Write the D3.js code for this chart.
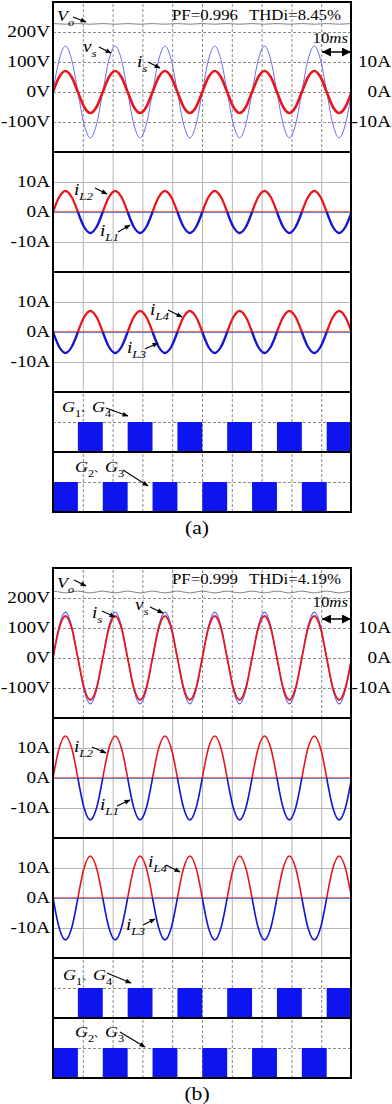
<!DOCTYPE html>
<html>
<head>
<meta charset="utf-8">
<script src="https://cdn.jsdelivr.net/npm/d3@7"></script>
<style>
  html, body { margin: 0; padding: 0; background: #fff; }
  svg { display: block; font-family: "Liberation Serif", "Times New Roman", "Noto Sans CJK SC", serif; }
</style>
</head>
<body>
<svg id="chart" width="392" height="1104"></svg>
<script>
// sample times (ms), 1/8 of a 60 Hz line period apart
const timeMs = [
  0, 2.09, 4.18, 6.26, 8.35, 10.44, 12.53, 14.61,
  16.7, 18.79, 20.88, 22.96, 25.05, 27.14, 29.23, 31.31,
  33.4, 35.49, 37.58, 39.66, 41.75, 43.84, 45.93, 48.01,
  50.1, 52.19, 54.28, 56.36, 58.45, 60.54, 62.63, 64.71,
  66.8, 68.89, 70.98, 73.06, 75.15, 77.24, 79.33, 81.41,
  83.5, 85.59, 87.68, 89.76, 91.85, 93.94, 96.03, 98.11,
  100.2
];
// gate edges (half line periods)
const halfCycleMs = [0, 8.35, 16.7, 25.05, 33.4, 41.75, 50.1, 58.45, 66.8, 75.15, 83.5, 91.85, 100.2];

// ---- (a) ----
const vsA = [
  0, 108, 153, 108, 0, -108, -153, -108,
  0, 108, 153, 108, 0, -108, -153, -108,
  0, 108, 153, 108, 0, -108, -153, -108,
  0, 108, 153, 108, 0, -108, -153, -108,
  0, 108, 153, 108, 0, -108, -153, -108,
  0, 108, 153, 108, 0, -108, -153, -108,
  0
];
const isA = [
  0, 5, 7, 5, 0, -5, -7, -5,
  0, 5, 7, 5, 0, -5, -7, -5,
  0, 5, 7, 5, 0, -5, -7, -5,
  0, 5, 7, 5, 0, -5, -7, -5,
  0, 5, 7, 5, 0, -5, -7, -5,
  0, 5, 7, 5, 0, -5, -7, -5,
  0
];
const iL2A = [
  0, 5, 7, 5, 0, 0, 0, 0,
  0, 5, 7, 5, 0, 0, 0, 0,
  0, 5, 7, 5, 0, 0, 0, 0,
  0, 5, 7, 5, 0, 0, 0, 0,
  0, 5, 7, 5, 0, 0, 0, 0,
  0, 5, 7, 5, 0, 0, 0, 0,
  0
];
const iL1A = [
  0, 0, 0, 0, 0, -5, -7, -5,
  0, 0, 0, 0, 0, -5, -7, -5,
  0, 0, 0, 0, 0, -5, -7, -5,
  0, 0, 0, 0, 0, -5, -7, -5,
  0, 0, 0, 0, 0, -5, -7, -5,
  0, 0, 0, 0, 0, -5, -7, -5,
  0
];
const iL4A = [
  0, 0, 0, 0, 0, 5, 7, 5,
  0, 0, 0, 0, 0, 5, 7, 5,
  0, 0, 0, 0, 0, 5, 7, 5,
  0, 0, 0, 0, 0, 5, 7, 5,
  0, 0, 0, 0, 0, 5, 7, 5,
  0, 0, 0, 0, 0, 5, 7, 5,
  0
];
const iL3A = [
  0, -5, -7, -5, 0, 0, 0, 0,
  0, -5, -7, -5, 0, 0, 0, 0,
  0, -5, -7, -5, 0, 0, 0, 0,
  0, -5, -7, -5, 0, 0, 0, 0,
  0, -5, -7, -5, 0, 0, 0, 0,
  0, -5, -7, -5, 0, 0, 0, 0,
  0
];
const voA = [
  228, 227, 226, 227, 228, 227, 226, 227,
  228, 227, 226, 227, 228, 227, 226, 227,
  228, 227, 226, 227, 228, 227, 226, 227,
  228, 227, 226, 227, 228, 227, 226, 227,
  228, 227, 226, 227, 228, 227, 226, 227,
  228, 227, 226, 227, 228, 227, 226, 227,
  228
];
const g14A = [0, 1, 0, 1, 0, 1, 0, 1, 0, 1, 0, 1, 1];
const g23A = [1, 0, 1, 0, 1, 0, 1, 0, 1, 0, 1, 0, 1];

// ---- (b) ----
const vsB = [
  0, 108, 153, 108, 0, -108, -153, -108,
  0, 108, 153, 108, 0, -108, -153, -108,
  0, 108, 153, 108, 0, -108, -153, -108,
  0, 108, 153, 108, 0, -108, -153, -108,
  0, 108, 153, 108, 0, -108, -153, -108,
  0, 108, 153, 108, 0, -108, -153, -108,
  0
];
const isB = [
  0, 10, 14, 10, 0, -10, -14, -10,
  0, 10, 14, 10, 0, -10, -14, -10,
  0, 10, 14, 10, 0, -10, -14, -10,
  0, 10, 14, 10, 0, -10, -14, -10,
  0, 10, 14, 10, 0, -10, -14, -10,
  0, 10, 14, 10, 0, -10, -14, -10,
  0
];
const iL2B = [
  0, 10, 14, 10, 0, 0, 0, 0,
  0, 10, 14, 10, 0, 0, 0, 0,
  0, 10, 14, 10, 0, 0, 0, 0,
  0, 10, 14, 10, 0, 0, 0, 0,
  0, 10, 14, 10, 0, 0, 0, 0,
  0, 10, 14, 10, 0, 0, 0, 0,
  0
];
const iL1B = [
  0, 0, 0, 0, 0, -10, -14, -10,
  0, 0, 0, 0, 0, -10, -14, -10,
  0, 0, 0, 0, 0, -10, -14, -10,
  0, 0, 0, 0, 0, -10, -14, -10,
  0, 0, 0, 0, 0, -10, -14, -10,
  0, 0, 0, 0, 0, -10, -14, -10,
  0
];
const iL4B = [
  0, 0, 0, 0, 0, 10, 14, 10,
  0, 0, 0, 0, 0, 10, 14, 10,
  0, 0, 0, 0, 0, 10, 14, 10,
  0, 0, 0, 0, 0, 10, 14, 10,
  0, 0, 0, 0, 0, 10, 14, 10,
  0, 0, 0, 0, 0, 10, 14, 10,
  0
];
const iL3B = [
  0, -10, -14, -10, 0, 0, 0, 0,
  0, -10, -14, -10, 0, 0, 0, 0,
  0, -10, -14, -10, 0, 0, 0, 0,
  0, -10, -14, -10, 0, 0, 0, 0,
  0, -10, -14, -10, 0, 0, 0, 0,
  0, -10, -14, -10, 0, 0, 0, 0,
  0
];
const voB = [
  223, 220, 217, 220, 223, 220, 217, 220,
  223, 220, 217, 220, 223, 220, 217, 220,
  223, 220, 217, 220, 223, 220, 217, 220,
  223, 220, 217, 220, 223, 220, 217, 220,
  223, 220, 217, 220, 223, 220, 217, 220,
  223, 220, 217, 220, 223, 220, 217, 220,
  223
];
const g14B = [0, 1, 0, 1, 0, 1, 0, 1, 0, 1, 0, 1, 1];
const g23B = [1, 0, 1, 0, 1, 0, 1, 0, 1, 0, 1, 0, 1];

// ticks
const voltTicks = [200, 100, 0, -100];
const ampTicks = [10, 0, -10];
const timeGrid = [10, 20, 30, 40, 50, 60, 70, 80, 90];

const RED = "#e8161b";
const BLUE = "#1414d2";
const VS_BLUE = "#5a5af0";
const GATE = "#0c14ef";
const STRETCH = 1.2;

const svg = d3.select("#chart");
const x = d3.scaleLinear().domain([0, 100]).range([53, 351]);

const defs = svg.append("defs");
defs.append("marker")
  .attr("id", "head").attr("viewBox", "0 0 10 10")
  .attr("refX", 9).attr("refY", 5)
  .attr("markerUnits", "userSpaceOnUse")
  .attr("markerWidth", 7).attr("markerHeight", 6)
  .attr("orient", "auto")
  .append("path").attr("d", "M0,1 L10,5 L0,9 Z").attr("fill", "#000");
defs.append("marker")
  .attr("id", "dbl").attr("viewBox", "0 0 10 10")
  .attr("refX", 10).attr("refY", 5)
  .attr("markerUnits", "userSpaceOnUse")
  .attr("markerWidth", 14).attr("markerHeight", 9)
  .attr("orient", "auto-start-reverse")
  .append("path").attr("d", "M0,0 L10,5 L0,10 Z").attr("fill", "#000");

function addText(g, x0, y0, parts, size, anchor) {
  const t = g.append("text")
    .attr("transform", `translate(${x0},${y0}) scale(${STRETCH},1)`)
    .attr("font-size", size)
    .attr("text-anchor", anchor || "start")
    .attr("fill", "#000");
  let low = false;
  parts.forEach((p) => {
    const ts = t.append("tspan").text(p.s);
    if (p.i) ts.attr("font-style", "italic");
    if (p.sub && !low) { ts.attr("dy", size * 0.3); low = true; }
    else if (!p.sub && low) { ts.attr("dy", -size * 0.3); low = false; }
    if (p.sub) ts.attr("font-size", size * 0.68);
    if (p.fs) ts.attr("font-size", p.fs);
  });
  return t;
}

function addArrow(g, [x1, y1, x2, y2]) {
  g.append("line")
    .attr("x1", x1).attr("y1", y1).attr("x2", x2).attr("y2", y2)
    .attr("stroke", "#000").attr("stroke-width", 1.1)
    .attr("marker-end", "url(#head)");
}

function grid(g, y, ticks, dashed) {
  const [yb, yt] = y.range();
  const col = dashed ? "#8a8a8a" : "#b4b4b4";
  g.append("g")
    .attr("transform", `translate(0,${yb})`)
    .call(d3.axisBottom(x).tickValues(timeGrid).tickSize(-(yb - yt)).tickFormat(""))
    .call((a) => a.select(".domain").remove())
    .selectAll("line").attr("stroke", col).attr("stroke-dasharray", dashed ? "3,2" : null);
  g.append("g")
    .attr("transform", `translate(${x(0)},0)`)
    .call(d3.axisLeft(y).tickValues(ticks).tickSize(-(x(100) - x(0))).tickFormat(""))
    .call((a) => a.select(".domain").remove())
    .selectAll("line").attr("stroke", col).attr("stroke-dasharray", dashed ? "3,2" : null);
}

const wave = (y) => d3.line()
  .x((d, i) => x(timeMs[i]))
  .y((d) => y(d))
  .curve(d3.curveMonotoneX);

const halfWave = (y) => wave(y)
  .defined((d, i, a) => d !== 0 || (a[i - 1] || 0) !== 0 || (a[i + 1] || 0) !== 0);

const VO = [{ s: "V", i: 1 }, { s: "o", i: 1, sub: 1 }];
const VS = [{ s: "v", i: 1 }, { s: "s", i: 1, sub: 1 }];
const IS = [{ s: "i", i: 1 }, { s: "s", i: 1, sub: 1 }];
const iL = (n) => [{ s: "i", i: 1 }, { s: "L" + n, i: 1, sub: 1 }];
const G = (a, b) => [
  { s: "G", i: 1 }, { s: a, sub: 1 }, { s: "、", fs: 9 },
  { s: "G", i: 1 }, { s: b, sub: 1 }
];

const figures = [
  {
    top: 2, tag: "(a)", tagY: 534, pf: "PF=0.996", thd: "THDi=8.45%",
    vs: vsA, is: isA, iL1: iL1A, iL2: iL2A, iL3: iL3A, iL4: iL4A, vo: voA, g14: g14A, g23: g23A,
    isW: 2.6, iLW: 2.3, vsW: 0.9,
    notes: {
      vo: [57, 21, [73, 17, 86, 22]], pfY: 20, msY: 43, dblY: 52,
      vs: [83, 52, [99, 47, 111, 53]], is: [137, 67, [148, 62, 160, 68]],
      iL2: [74, 195, [95, 188, 107, 194]], iL1: [100, 236, [118, 232, 130, 225]],
      iL4: [150, 315, [168, 310, 182, 317]], iL3: [127, 353, [145, 349, 158, 343]],
      g14: [62, 412, [106, 408, 128, 416]], g23: [75, 472, [123, 470, 148, 486]]
    }
  },
  {
    top: 568, tag: "(b)", tagY: 1100, pf: "PF=0.999", thd: "THDi=4.19%",
    vs: vsB, is: isB, iL1: iL1B, iL2: iL2B, iL3: iL3B, iL4: iL4B, vo: voB, g14: g14B, g23: g23B,
    isW: 1.8, iLW: 1.6, vsW: 1.1,
    notes: {
      vo: [57, 588, [74, 580, 86, 586]], pfY: 584, msY: 607, dblY: 619,
      vs: [135, 610, [150, 607, 163, 613]], is: [92, 618, [102, 611, 115, 617]],
      iL2: [74, 752, [92, 747, 106, 753]], iL1: [100, 810, [117, 806, 130, 800]],
      iL4: [148, 867, [166, 865, 180, 872]], iL3: [126, 930, [143, 925, 155, 919]],
      g14: [63, 980, [107, 973, 131, 983]], g23: [75, 1037, [120, 1032, 145, 1047]]
    }
  }
];

figures.forEach((f, k) => {
  const t = f.top;
  const g = svg.append("g");
  const yV = d3.scaleLinear().domain([-200, 300]).range([t + 150, t]);
  const yI = d3.scaleLinear().domain([-20, 30]).range([t + 150, t]);
  const y2 = d3.scaleLinear().domain([-20, 20]).range([t + 270, t + 150]);
  const y3 = d3.scaleLinear().domain([-20, 20]).range([t + 390, t + 270]);
  const y4 = d3.scaleLinear().domain([0, 2]).range([t + 450, t + 390]);
  const y5 = d3.scaleLinear().domain([0, 2]).range([t + 510, t + 450]);

  const clipId = "clip" + k;
  defs.append("clipPath").attr("id", clipId)
    .append("rect").attr("x", x(0)).attr("y", t).attr("width", x(100) - x(0)).attr("height", 510);

  grid(g, yV, voltTicks, true);
  grid(g, y2, ampTicks, false);
  grid(g, y3, ampTicks, false);
  grid(g, y4, [1], true);
  grid(g, y5, [1], true);

  const plot = g.append("g").attr("clip-path", `url(#${clipId})`);

  // panel 1: Vo, vs, is
  plot.append("path").attr("d", wave(yV)(f.vo)).attr("fill", "none").attr("stroke", "#808080").attr("stroke-width", 1);
  plot.append("path").attr("d", wave(yV)(f.vs)).attr("fill", "none").attr("stroke", VS_BLUE).attr("stroke-width", f.vsW);
  plot.append("path").attr("d", wave(yI)(f.is)).attr("fill", "none").attr("stroke", RED).attr("stroke-width", f.isW);

  // panels 2 and 3: inductor currents, thin traces at zero when idle
  [[y2, f.iL2, f.iL1], [y3, f.iL4, f.iL3]].forEach(([y, pos, neg]) => {
    plot.append("line").attr("x1", x(0)).attr("x2", x(100))
      .attr("y1", y(0) - 0.5).attr("y2", y(0) - 0.5).attr("stroke", RED).attr("stroke-width", 0.8).attr("opacity", 0.75);
    plot.append("line").attr("x1", x(0)).attr("x2", x(100))
      .attr("y1", y(0) + 0.5).attr("y2", y(0) + 0.5).attr("stroke", BLUE).attr("stroke-width", 0.8).attr("opacity", 0.45);
    plot.append("path").attr("d", halfWave(y)(pos)).attr("fill", "none").attr("stroke", RED).attr("stroke-width", f.iLW);
    plot.append("path").attr("d", halfWave(y)(neg)).attr("fill", "none").attr("stroke", BLUE).attr("stroke-width", f.iLW);
  });

  // panels 4 and 5: gate signals
  [[y4, f.g14], [y5, f.g23]].forEach(([y, s]) => {
    const area = d3.area()
      .x((d, i) => x(halfCycleMs[i]))
      .y0(y(0))
      .y1((d) => y(d))
      .curve(d3.curveStepAfter);
    plot.append("path").attr("d", area(s)).attr("fill", GATE);
  });

  // frame and panel separators
  g.append("rect").attr("x", x(0)).attr("y", t).attr("width", x(100) - x(0)).attr("height", 510)
    .attr("fill", "none").attr("stroke", "#000").attr("stroke-width", 2);
  [yV, y2, y3, y4].forEach((y) => {
    const yy = y.range()[0];
    g.append("line").attr("x1", x(0)).attr("x2", x(100)).attr("y1", yy).attr("y2", yy)
      .attr("stroke", "#000").attr("stroke-width", 2.2);
  });

  // tick labels
  voltTicks.forEach((v) => addText(g, 50, yV(v) + 5, [{ s: v + "V" }], 16, "end"));
  ampTicks.forEach((v) => addText(g, 391, yI(v) + 5, [{ s: v + "A" }], 16, "end"));
  ampTicks.forEach((v) => addText(g, 50, y2(v) + 5, [{ s: v + "A" }], 16, "end"));
  ampTicks.forEach((v) => addText(g, 50, y3(v) + 5, [{ s: v + "A" }], 16, "end"));

  // annotations
  const n = f.notes;
  addText(g, n.vo[0], n.vo[1], VO, 15); addArrow(g, n.vo[2]);
  addText(g, 172, n.pfY, [{ s: f.pf }], 14);
  addText(g, 341, n.pfY, [{ s: f.thd }], 14, "end");
  addText(g, 348, n.msY, [{ s: "10" }, { s: "ms", i: 1 }], 14, "end");
  g.append("line").attr("x1", 322).attr("x2", x(100)).attr("y1", n.dblY).attr("y2", n.dblY)
    .attr("stroke", "#000").attr("stroke-width", 1.5)
    .attr("marker-start", "url(#dbl)").attr("marker-end", "url(#dbl)");
  addText(g, n.vs[0], n.vs[1], VS, 16); addArrow(g, n.vs[2]);
  addText(g, n.is[0], n.is[1], IS, 16); addArrow(g, n.is[2]);
  addText(g, n.iL2[0], n.iL2[1], iL(2), 16); addArrow(g, n.iL2[2]);
  addText(g, n.iL1[0], n.iL1[1], iL(1), 16); addArrow(g, n.iL1[2]);
  addText(g, n.iL4[0], n.iL4[1], iL(4), 16); addArrow(g, n.iL4[2]);
  addText(g, n.iL3[0], n.iL3[1], iL(3), 16); addArrow(g, n.iL3[2]);
  addText(g, n.g14[0], n.g14[1], G("1", "4"), 15); addArrow(g, n.g14[2]);
  addText(g, n.g23[0], n.g23[1], G("2", "3"), 15); addArrow(g, n.g23[2]);
  addText(g, 197, f.tagY, [{ s: f.tag }], 18, "middle");
});
</script>
</body>
</html>
